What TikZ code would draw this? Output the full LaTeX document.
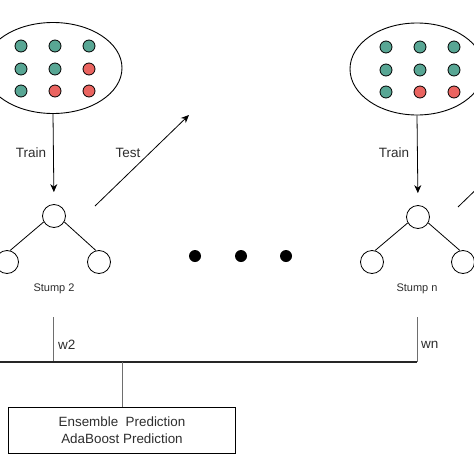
\documentclass[tikz,border=0pt]{standalone}
\usepackage{fontspec}
\setmainfont{Liberation Sans}
\usetikzlibrary{shapes.geometric,arrows.meta}
\definecolor{dteal}{RGB}{88,166,148}
\definecolor{dred}{RGB}{234,100,96}
\definecolor{txt}{RGB}{45,45,45}
\definecolor{gline}{RGB}{110,110,110}
\tikzset{
  dataset/.style={draw,ellipse,line width=0.9pt,inner sep=0pt},
  tdot/.style={draw,circle,fill=dteal,minimum size=12pt,inner sep=0pt,line width=0.8pt},
  rdot/.style={draw,circle,fill=dred,minimum size=12pt,inner sep=0pt,line width=0.8pt},
  bdot/.style={circle,fill=black,minimum size=12pt,inner sep=0pt},
  snode/.style={draw,circle,minimum size=23pt,inner sep=0pt,line width=0.8pt,fill=white},
  edge/.style={line width=0.8pt},
  arr/.style={line width=0.8pt,-{Stealth[length=8pt,width=7pt]}},
  lbl/.style={font=\fontsize{13.5}{15}\selectfont,text=txt,inner sep=0pt},
  slbl/.style={font=\fontsize{11}{12}\selectfont,text=txt,inner sep=0pt},
  wire/.style={line width=1pt,gline},
  bus/.style={line width=1.1pt,black!85},
  outbox/.style={draw,line width=0.9pt,minimum width=227pt,minimum height=46pt,align=center,inner sep=0pt,font=\fontsize{13.4}{17}\selectfont,text=txt}
}
\begin{document}
\begin{tikzpicture}[x=1pt,y=-1pt]
\useasboundingbox (0,0) rectangle (474,474);
\clip (0,0) rectangle (474,474);
% left dataset
\node[dataset,minimum width=138pt,minimum height=91pt] (e1) at (53,68) {};
\node[tdot] (a11) at (21,46) {};
\node[tdot] (a12) at (55,46) {};
\node[tdot] (a13) at (89,46) {};
\node[tdot] (a21) at (21,69) {};
\node[tdot] (a22) at (55,69) {};
\node[rdot] (a23) at (89,69) {};
\node[tdot] (a31) at (21,91) {};
\node[rdot] (a32) at (55,91) {};
\node[rdot] (a33) at (89,91) {};
% right dataset
\node[dataset,minimum width=134pt,minimum height=92pt] (e2) at (417,69) {};
\node[tdot] (b11) at (386,47) {};
\node[tdot] (b12) at (420,47) {};
\node[tdot] (b13) at (454,47) {};
\node[tdot] (b21) at (386,70) {};
\node[tdot] (b22) at (420,70) {};
\node[tdot] (b23) at (454,70) {};
\node[tdot] (b31) at (386,92) {};
\node[rdot] (b32) at (420,92) {};
\node[rdot] (b33) at (454,92) {};
% stump 2
\node[snode] (r1) at (54,216) {};
\node[snode] (l1) at (7,262) {};
\node[snode] (q1) at (99,262) {};
\draw[edge] (r1.210) -- (l1.75);
\draw[edge] (r1.330) -- (q1.105);
\node[slbl] (s1) at (54,289) {Stump 2};
% stump n
\node[snode] (r2) at (418,217) {};
\node[snode] (l2) at (372,262) {};
\node[snode] (q2) at (463,262) {};
\draw[edge] (r2.210) -- (l2.75);
\draw[edge] (r2.330) -- (q2.105);
\node[slbl] (s2) at (417,289) {Stump n};
% train arrows
\draw[arr,shorten >=12pt] (e1.south) -- (r1.north);
\draw[arr,shorten >=12pt] (e2.south) -- (r2.north);
\node[lbl] (t1) at (31,153) {Train};
\node[lbl] (t2) at (394,153) {Train};
% test arrows
\coordinate (ta) at (95,206);
\coordinate (tb) at (189,115);
\draw[arr] (ta) -- (tb);
\node[lbl] (te) at (128,153) {Test};
\coordinate (tc) at (458,207);
\coordinate (td) at (552,116);
\draw[arr] (tc) -- (td);
% ellipsis dots
\node[bdot] (d1) at (195,256) {};
\node[bdot] (d2) at (241,256) {};
\node[bdot] (d3) at (286,256) {};
% weights
\coordinate (w2t) at (53,317);
\coordinate (w2b) at (53,362);
\coordinate (wnt) at (417,317);
\coordinate (wnb) at (417,362);
\coordinate (busl) at (0,362);
\coordinate (busm) at (122,362);
\draw[wire] (w2t) -- (w2b);
\draw[wire] (wnt) -- (wnb);
\draw[bus] (busl) -- (wnb);
\node[lbl,anchor=west] (w2) at (58,345) {w2};
\node[lbl,anchor=west] (wn) at (421,345) {wn};
% output
\node[outbox] (out) at (122,430) {Ensemble\ \ Prediction\\AdaBoost Prediction};
\draw[wire] (busm) -- (out.north);
\end{tikzpicture}
\end{document}
